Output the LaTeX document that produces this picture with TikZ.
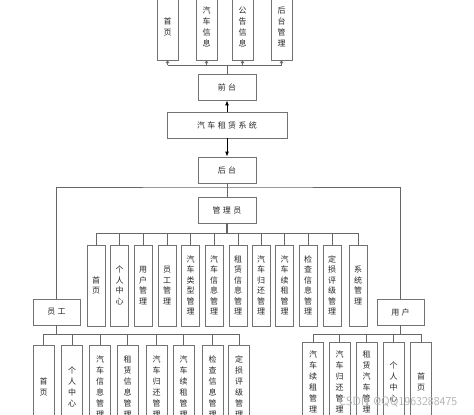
\documentclass[tikz,border=0pt]{standalone}
\usepackage{fontspec}
\newfontfamily\cjk{Noto Sans CJK SC}
\newfontfamily\cjkwide[LetterSpace=30]{Noto Sans CJK SC}
\usetikzlibrary{arrows.meta}

\tikzset{
  box/.style={draw=black!55, line width=0.8pt, fill=white, inner sep=0pt,
    text=black!85, align=center},
  vbox/.style={box, font=\cjk\fontsize{8}{11}\selectfont},
  hbox/.style={box, font=\cjkwide\fontsize{8}{11}\selectfont,
    minimum width=58pt, minimum height=26pt},
  wire/.style={draw=black!60, line width=0.8pt},
  arr/.style={draw=black, line width=0.9pt, -{Latex[length=5pt,width=4pt]}},
  tip/.style={wire, -{Straight Barb[length=2pt,width=3pt]}}
}

\begin{document}
\begin{tikzpicture}[x=1pt, y={(0pt,-1pt)}]
  \useasboundingbox[fill=white] (0,0) rectangle (474,415);

  % front end
  \foreach \x/\t [count=\i] in {167.5/{首\\页}, 206.5/{汽\\车\\信\\息},
      242.5/{公\\告\\信\\息}, 281.5/{后\\台\\管\\理}}
    \node[vbox, minimum width=21pt, minimum height=66pt] (t\i) at (\x,27) {\t};

  \node[hbox] (qt) at (227,87) {前台};
  \node[hbox, minimum width=120pt] (sys) at (227,125) {汽车租赁系统};
  \node[hbox] (ht) at (227,170) {后台};
  \node[hbox] (gly) at (227,210) {管理员};
  \node[hbox, minimum width=47pt] (yg) at (56.5,312) {员工};
  \node[hbox, minimum width=47pt] (yh) at (400.5,312) {用户};

  \coordinate (tb) at (227,65);
  \draw[wire] (qt.north) -- (tb);
  \draw[wire] (t1 |- tb) -- (t4 |- tb);
  \foreach \i in {1,...,4}
    \draw[tip] (t\i |- tb) -- (t\i.south);

  \draw[arr] (sys.north) -- (qt.south);
  \draw[arr] (sys.south) -- (ht.north);

  {
    \coordinate (hb) at (227,187);
    \draw[wire] (ht.south) -- (gly.north);
    \draw[wire] (yg.north) |- (hb) -| (yh.north);
  }

  % admin
  {
    \foreach \x/\t [count=\i] in {96/{首\\页}, 119.5/{个\\人\\中\\心},
        143/{用\\户\\管\\理}, 167/{员\\工\\管\\理}, 190.5/{汽\\车\\类\\型\\管\\理},
        214/{汽\\车\\信\\息\\管\\理}, 238/{租\\赁\\信\\息\\管\\理},
        261/{汽\\车\\归\\还\\管\\理}, 284.5/{汽\\车\\续\\租\\管\\理},
        308/{检\\查\\信\\息\\管\\理}, 332/{定\\损\\评\\级\\管\\理},
        358/{系\\统\\管\\理}}
      \node[vbox, font=\cjk\fontsize{8}{10.5}\selectfont,
        minimum width=18pt, minimum height=81pt] (a\i) at (\x,285.5) {\t};

    \coordinate (ab) at (227,233);
    \draw[wire, line width=1.1pt] (gly.south) -- (ab);
    \draw[wire] (a1 |- ab) -- (a12 |- ab);
    \foreach \i in {1,...,12}
      \draw[wire] (a\i |- ab) -- (a\i.north);
  }

  % staff
  {
    \foreach \x/\t [count=\i] in {43.5/{首\\页}, 72/{个\\人\\中\\心},
        100/{汽\\车\\信\\息\\管\\理}, 127.5/{租\\赁\\信\\息\\管\\理},
        156.5/{汽\\车\\归\\还\\管\\理}, 183.5/{汽\\车\\续\\租\\管\\理},
        212.5/{检\\查\\信\\息\\管\\理}, 239/{定\\损\\评\\级\\管\\理}}
      \node[vbox, minimum width=21pt, minimum height=83pt] (s\i) at (\x,386.5) {\t};

    \coordinate (sb) at (56.5,334);
    \draw[wire, line width=1.1pt] (yg.south) -- (sb);
    \draw[wire] (s1 |- sb) -- (s8 |- sb);
    \foreach \i in {1,...,8}
      \draw[wire] (s\i |- sb) -- (s\i.north);
  }

  % user
  {
    \foreach \x/\t [count=\i] in {313/{汽\\车\\续\\租\\管\\理},
        339.5/{汽\\车\\归\\还\\管\\理}, 366.5/{租\\赁\\汽\\车\\管\\理},
        393.5/{个\\人\\中\\心}, 421/{首\\页}}
      \node[vbox, minimum width=21pt, minimum height=80pt] (u\i) at (\x,382) {\t};

    \coordinate (ub) at (400.5,334);
    \draw[wire, line width=1.1pt] (yh.south) -- (ub);
    \draw[wire] (u1 |- ub) -- (u5 |- ub);
    \foreach \i in {1,...,5}
      \draw[wire] (u\i |- ub) -- (u\i.north);
  }

  \node[font=\sffamily\fontsize{12}{12}\selectfont, text=black!30, inner sep=0pt]
    (wm) at (398,402) {CSDN @QQ1963288475};
\end{tikzpicture}
\end{document}
